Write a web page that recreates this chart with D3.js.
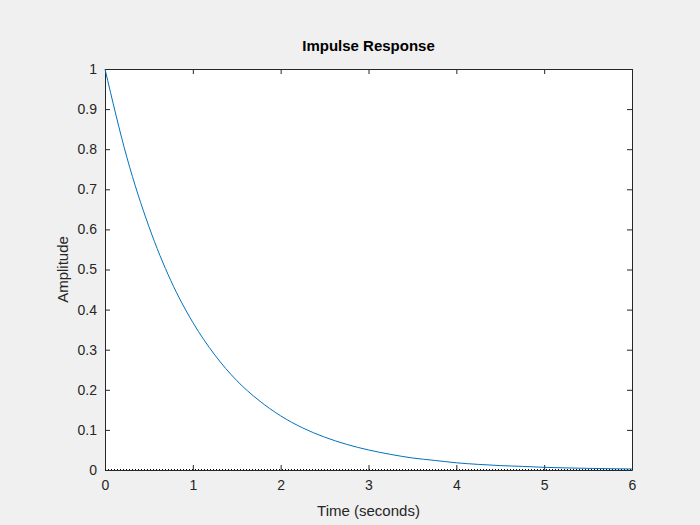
<!DOCTYPE html>
<html><head><meta charset="utf-8">
<script src="https://cdn.jsdelivr.net/npm/d3@7"></script>
<style>body{margin:0;background:#f0f0f0}svg{display:block}</style>
</head><body>
<script>
const times = [0,0.25,0.5,0.75,1,1.25,1.5,1.75,2,2.25,2.5,2.75,3,3.25,3.5,3.75,4,4.25,4.5,4.75,5,5.25,5.5,5.75,6];
const amplitude = [1,0.779,0.607,0.472,0.368,0.287,0.223,0.174,0.135,0.105,0.082,0.064,0.050,0.039,0.030,0.024,0.018,0.014,0.011,0.009,0.0067,0.0052,0.0041,0.0032,0.0025];
const xTicks = [0,1,2,3,4,5,6];
const yTicks = [0,0.1,0.2,0.3,0.4,0.5,0.6,0.7,0.8,0.9,1];

const W=700,H=525, L=105,R=632,T=69,B=470;
const svg=d3.select("body").append("svg").attr("width",W).attr("height",H);
svg.append("rect").attr("width",W).attr("height",H).attr("fill","#f0f0f0");
svg.append("rect").attr("x",L).attr("y",T).attr("width",R-L).attr("height",B-T).attr("fill","#fff");
const x=d3.scaleLinear().domain([0,6]).range([L,R]);
const y=d3.scaleLinear().domain([0,1]).range([B,T]);
const col="#262626", font="Arial, 'Liberation Sans', sans-serif";

svg.append("g").attr("transform",`translate(0,${B})`).call(d3.axisBottom(x).tickValues(xTicks).tickSizeInner(-5).tickSizeOuter(0).tickPadding(10).tickFormat(d3.format("d")));
svg.append("g").attr("transform",`translate(0,${T})`).call(d3.axisTop(x).tickValues(xTicks).tickSizeInner(-5).tickSizeOuter(0).tickFormat(""));
svg.append("g").attr("transform",`translate(${L},0)`).call(d3.axisLeft(y).tickValues(yTicks).tickSizeInner(-5).tickSizeOuter(0).tickPadding(8).tickFormat(d=>d===0?"0":d===1?"1":d3.format(".1f")(d)));
svg.append("g").attr("transform",`translate(${R},0)`).call(d3.axisRight(y).tickValues(yTicks).tickSizeInner(-5).tickSizeOuter(0).tickFormat(""));
svg.selectAll(".domain").attr("stroke",col);
svg.selectAll(".tick line").attr("stroke",col);
svg.selectAll(".tick text").attr("fill",col).style("font-family",font).style("font-size","14px");

svg.append("line").attr("x1",L).attr("x2",R).attr("y1",y(0)-0.5).attr("y2",y(0)-0.5).attr("stroke","#000").attr("stroke-dasharray","1,2").attr("stroke-width",1);

svg.append("path").datum(times.map((t,i)=>[t,amplitude[i]]))
 .attr("d",d3.line().x(d=>x(d[0])).y(d=>y(d[1])).curve(d3.curveMonotoneX))
 .attr("fill","none").attr("stroke","#0072bd").attr("stroke-width",1);

svg.append("text").attr("x",(L+R)/2).attr("y",51).attr("text-anchor","middle").attr("fill","#000")
 .style("font-family",font).style("font-size","15px").style("font-weight","bold").text("Impulse Response");
svg.append("text").attr("x",(L+R)/2).attr("y",516).attr("text-anchor","middle").attr("fill",col)
 .style("font-family",font).style("font-size","15px").text("Time (seconds)");
svg.append("text").attr("transform",`translate(68,${(T+B)/2}) rotate(-90)`).attr("text-anchor","middle").attr("fill",col)
 .style("font-family",font).style("font-size","15px").text("Amplitude");
</script>
</body></html>
